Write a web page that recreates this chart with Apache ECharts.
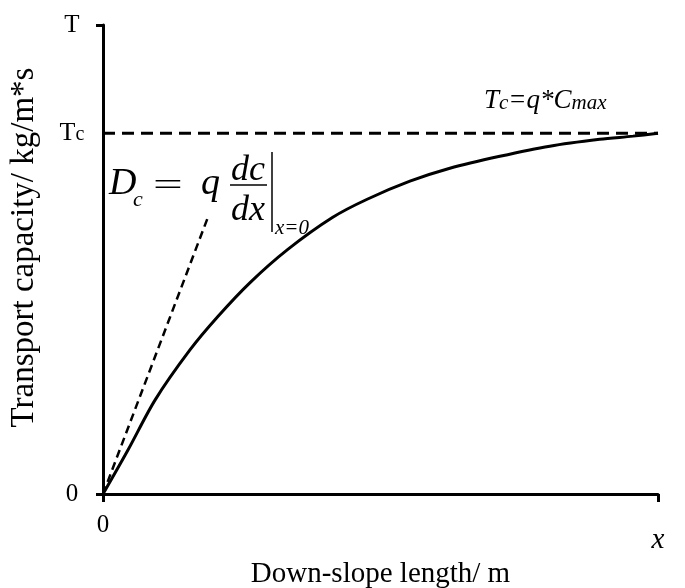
<!DOCTYPE html>
<html>
<head>
<meta charset="utf-8">
<script src="https://cdn.jsdelivr.net/npm/echarts@6/dist/echarts.min.js"></script>
<style>html,body{margin:0;padding:0;background:#fff;}#c{width:685px;height:588px;}</style>
</head>
<body>
<div id="c"></div>
<script>
// Data (x: fraction of down-slope length, y: fraction of Tc)
const curveX = [0, 0.045, 0.094, 0.157, 0.207, 0.265, 0.333, 0.414, 0.476, 0.553, 0.625, 0.715, 0.805, 0.895, 0.955, 1.0];
const curveY = [0, 0.122, 0.261, 0.400, 0.492, 0.586, 0.678, 0.767, 0.817, 0.867, 0.903, 0.936, 0.964, 0.983, 0.992, 1.0];
const tangentX = [0, 0.189];
const tangentY = [0, 0.767];
const tcLevel = 1.0;
const tMax = 1.3;
const xMax = 1.0;
const yTickValues = [0, 1.0, 1.3];
const yTickLabels = ['0', '{t|T}{s|c}', 'T'];
const xTickValues = [0, 1.0];
const xTickLabels = ['0', '{x|x}'];

const serif = "'Liberation Serif', 'Times New Roman', serif";
const chart = echarts.init(document.getElementById('c'), null, {renderer: 'canvas'});
const curve = curveX.map((x, i) => [x, curveY[i]]);
const tangent = tangentX.map((x, i) => [x, tangentY[i]]);
const tcLine = [[0, tcLevel], [xMax, tcLevel]];

function txt(left, top, text, size, italic, extra) {
  return Object.assign({type: 'text', left: left, top: top, style: {
    text: text, fontFamily: serif, fontStyle: italic ? 'italic' : 'normal', fontSize: size, fill: '#000'}}, extra || {});
}

chart.setOption({
  animation: false,
  backgroundColor: '#fff',
  grid: {left: 103, right: 27, top: 25, bottom: 94, outerBoundsMode: 'none', containLabel: false},
  xAxis: {
    type: 'value', min: 0, max: xMax,
    name: 'Down-slope length/ m', nameLocation: 'middle', nameGap: 58,
    nameTextStyle: {fontFamily: serif, fontSize: 29, color: '#000'},
    axisLine: {show: true, onZero: false, lineStyle: {color: '#000', width: 3}},
    axisTick: {show: true, customValues: xTickValues, length: 8, lineStyle: {color: '#000', width: 3}},
    axisLabel: {
      customValues: xTickValues, margin: 19, color: '#000', fontFamily: serif, fontSize: 25,
      formatter: v => xTickLabels[xTickValues.indexOf(v)] || '',
      rich: {x: {fontFamily: serif, fontStyle: 'italic', fontSize: 29, color: '#000', padding: [13, 0, 0, 0]}}
    },
    splitLine: {show: false}
  },
  yAxis: {
    type: 'value', min: 0, max: tMax,
    name: 'Transport capacity/ kg/m*s', nameLocation: 'middle', nameGap: 62, nameRotate: 90,
    nameTextStyle: {fontFamily: serif, fontSize: 33, color: '#000', padding: [0, 0, 0, 24]},
    axisLine: {show: true, onZero: false, lineStyle: {color: '#000', width: 3}},
    axisTick: {show: true, customValues: [0, tMax], length: 7, lineStyle: {color: '#000', width: 3}},
    axisLabel: {
      customValues: yTickValues, margin: 31, align: 'center', color: '#000', fontFamily: serif, fontSize: 25,
      formatter: v => yTickLabels[yTickValues.indexOf(v)] || '',
      rich: {
        t: {fontFamily: serif, fontSize: 26, color: '#000'},
        s: {fontFamily: serif, fontSize: 20, color: '#000', padding: [4, 0, 0, 0]}
      }
    },
    splitLine: {show: false}
  },
  series: [
    {type: 'line', data: tcLine, symbol: 'none', lineStyle: {color: '#000', width: 3, type: [12, 7]}, z: 2},
    {type: 'line', data: tangent, symbol: 'none', lineStyle: {color: '#000', width: 2.5, type: [8, 5]}, z: 2},
    {type: 'line', data: curve, symbol: 'none', smooth: 0.3, lineStyle: {color: '#000', width: 3}, z: 3}
  ],
  graphic: [
    txt(109, 165, 'D', 38, true),
    txt(133, 189, 'c', 22, true),
    txt(153, 171, '=', 32, false, {scaleX: 1.65}),
    txt(201, 165, 'q', 38, true),
    txt(231, 153, 'dc', 36, true),
    {type: 'line', shape: {x1: 230, y1: 185, x2: 267, y2: 185}, style: {stroke: '#000', lineWidth: 1.5}},
    txt(231, 193, 'dx', 36, true),
    {type: 'line', shape: {x1: 272, y1: 152, x2: 272, y2: 232}, style: {stroke: '#000', lineWidth: 1.5}},
    txt(275, 218, 'x=0', 21, true),
    {type: 'text', left: 484, top: 87, style: {
      text: '{a|T}{b|c}{a|=q*C}{b|max}',
      rich: {
        a: {fontFamily: serif, fontStyle: 'italic', fontSize: 27, fill: '#000'},
        b: {fontFamily: serif, fontStyle: 'italic', fontSize: 21, fill: '#000', padding: [5, 0, 0, 0]}
      }}}
  ]
});
</script>
</body>
</html>
